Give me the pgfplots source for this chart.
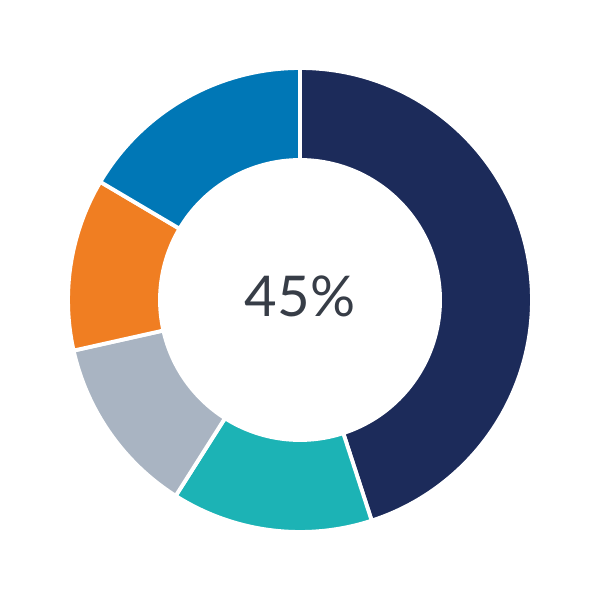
\documentclass[border=0pt]{standalone}
\usepackage{pgfplots}
\usepackage{pgfplotstable}
\pgfplotsset{compat=1.18}
\usepackage{fontspec}
\setmainfont{Lato}
\definecolor{c0}{HTML}{1C2B5A}
\definecolor{c1}{HTML}{1CB3B5}
\definecolor{c2}{HTML}{A9B4C2}
\definecolor{c3}{HTML}{F07E22}
\definecolor{c4}{HTML}{0077B6}
\definecolor{txt}{HTML}{373D47}

% share of each segment, clockwise from 12 o'clock
\pgfplotstableread{
idx share
0 45
1 14
2 12.5
3 12
4 16.5
}\donutdata

\begin{document}
\begin{tikzpicture}
% cumulative start/end angles for each segment
\def\cum{0}
\pgfplotsforeachungrouped \i in {0,...,4}{%
  \pgfplotstablegetelem{\i}{share}\of\donutdata
  \pgfmathsetmacro\sa{90-3.6*\cum}%
  \pgfmathsetmacro\cum{\cum+\pgfplotsretval}%
  \pgfmathsetmacro\ea{90-3.6*\cum}%
  \expandafter\xdef\csname sa\i\endcsname{\sa}%
  \expandafter\xdef\csname ea\i\endcsname{\ea}%
}
\begin{axis}[
  scale only axis,
  width=6cm, height=6cm,
  xmin=-3, xmax=3, ymin=-3, ymax=3,
  ticks=none,
  axis line style={draw=none},
  clip=false,
]
\pgfplotsinvokeforeach{0,...,4}{
  \fill[c#1, draw=white, line width=1.1pt]
    ({2.32*cos(\csname sa#1\endcsname)},{2.32*sin(\csname sa#1\endcsname)})
    arc[start angle=\csname sa#1\endcsname, end angle=\csname ea#1\endcsname, radius=2.32]
    -- ({1.40*cos(\csname ea#1\endcsname)},{1.40*sin(\csname ea#1\endcsname)})
    arc[start angle=\csname ea#1\endcsname, end angle=\csname sa#1\endcsname, radius=1.40]
    -- cycle;
}
\node[text=txt, font=\fontsize{16}{18}\selectfont] at (axis cs:0,0.04) {45\%};
\end{axis}
\end{tikzpicture}
\end{document}
